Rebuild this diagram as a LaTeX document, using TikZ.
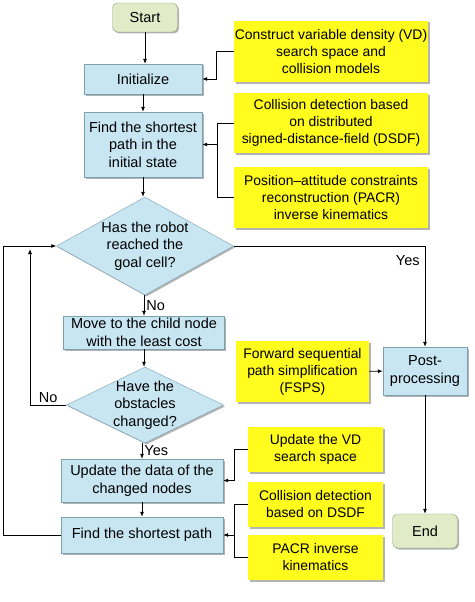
\documentclass[tikz,border=0pt]{standalone}
\usepackage{fontspec}
\setmainfont{Liberation Sans}
\usetikzlibrary{arrows.meta, positioning, shapes.geometric, shadows, calc}

\definecolor{stepblue}{RGB}{200,230,242}
\definecolor{stepedge}{RGB}{125,160,175}
\definecolor{noteyellow}{RGB}{255,252,30}
\definecolor{termgreen}{RGB}{226,235,200}
\definecolor{termedge}{RGB}{150,160,125}

\begin{document}
\begin{tikzpicture}[
  x=1pt, y=-1pt,
  shade box/.style={drop shadow={shadow xshift=1.5pt, shadow yshift=-1.5pt, fill=black!50, opacity=0.6}},
  stepbox/.style={draw=stepedge, fill=stepblue, shade box, align=center, inner sep=0pt,
    font=\fontsize{14.5}{17.5}\selectfont},
  termbox/.style={stepbox, draw=termedge, fill=termgreen, rounded corners=5pt},
  notebox/.style={fill=noteyellow, shade box, align=center, inner sep=0pt,
    font=\fontsize{13.9}{17}\selectfont},
  dia/.style={diamond, draw=stepedge, fill=stepblue, shade box, inner sep=0pt},
  diatext/.style={align=center, font=\fontsize{14.5}{17.5}\selectfont},
  lab/.style={font=\fontsize{14.5}{17.5}\selectfont, inner sep=2pt},
  arrow/.style={-{Latex[length=5pt,width=4pt]}, line width=0.8pt},
  line/.style={line width=0.8pt}
]
\useasboundingbox (0,0) rectangle (474,602);

% main column
\node[termbox, minimum width=65pt, minimum height=29pt] (start) at (145,17.5) {Start};
\node[stepbox, minimum width=118pt, minimum height=30pt] (init) at (143,79) {Initialize};
\node[stepbox, minimum width=118pt, minimum height=65pt] (findinit) at (143,144.5) {Find the shortest\\path in the\\initial state};
\node[dia, minimum width=177pt, minimum height=98pt] (goal) at (145,246) {};
\node[diatext] (goaltxt) at (goal) {Has the robot\\reached the\\goal cell?};
\node[stepbox, minimum width=161pt, minimum height=33pt] (move) at (144,332.5) {Move to the child node\\with the least cost};
\node[dia, minimum width=157pt, minimum height=76pt] (changed) at (145,405) {};
\node[diatext] (changedtxt) at (changed) {Have the\\obstacles\\changed?};
\node[stepbox, minimum width=162pt, minimum height=43pt] (update) at (142,480.5) {Update the data of the\\changed nodes};
\node[stepbox, minimum width=162pt, minimum height=36pt] (findpath) at (142,535) {Find the shortest path};

% right column
\node[stepbox, minimum width=84pt, minimum height=48pt] (post) at (425,371) {Post-\\processing};
\node[termbox, minimum width=65pt, minimum height=34pt] (endn) at (425,531) {End};

% yellow notes
\node[notebox, minimum width=194pt, minimum height=61pt] (vdbox) at (331,51.5) {Construct variable density (VD)\\search space and\\collision models};
\node[notebox, minimum width=194pt, minimum height=60pt] (dsdfbox) at (331,123) {Collision detection based\\on distributed\\signed-distance-field (DSDF)};
\node[notebox, minimum width=194pt, minimum height=61pt] (pacrbox) at (331,197.5) {Position--attitude constraints\\reconstruction (PACR)\\inverse kinematics};
\node[notebox, minimum width=133pt, minimum height=61pt] (fsps) at (302.5,371.5) {Forward sequential\\path simplification\\(FSPS)};
\node[notebox, minimum width=135pt, minimum height=45pt] (updvd) at (315.5,449.5) {Update the VD\\search space};
\node[notebox, minimum width=135pt, minimum height=45pt] (coll) at (315.5,504.5) {Collision detection\\based on DSDF};
\node[notebox, minimum width=135pt, minimum height=45pt] (pacr) at (315.5,557.5) {PACR inverse\\kinematics};

% connectors
\draw[arrow] (start.south) -- (start.south |- init.north);
\draw[arrow] (vdbox.west) -- ++(-17,0) |- (init.east);
\draw[arrow] (init) -- (findinit);
\draw[line] (dsdfbox.west) -- ++(-16,0) coordinate (b1) -- (b1 |- pacrbox.west) -- (pacrbox.west);
\draw[arrow] (b1 |- findinit.east) -- (findinit.east);
\draw[arrow] (findinit.south) -- (findinit.south |- goal.north);
\draw[arrow] (goal.east) -| node[lab, pos=0.57, left, xshift=-3pt] {Yes} (post.north);
\draw[arrow] (goal.south -| move.north) -- node[lab, right] {No} (move.north);
\draw[arrow] (move.south) -- (move.south |- changed.north);
\coordinate (loopin) at (30,249);
\draw[arrow] (changed.west) -| node[lab, pos=0.25, above] {No} (loopin);
\draw[arrow] (changed.south -| update.north) -- node[lab, right] {Yes} (update.north);
\draw[arrow] (updvd.west) -- ++(-13,0) |- (update.east);
\draw[arrow] (update) -- (findpath);
\draw[line] (coll.west) -- ++(-13,0) coordinate (b2) -- (b2 |- pacr.west) -- (pacr.west);
\draw[arrow] (b2 |- findpath.east) -- (findpath.east);
\draw[arrow] (findpath.west) -- ++(-57,0) |- (goal.west);
\draw[arrow] (fsps) -- (post);
\draw[arrow] (post) -- (endn);
\end{tikzpicture}
\end{document}
